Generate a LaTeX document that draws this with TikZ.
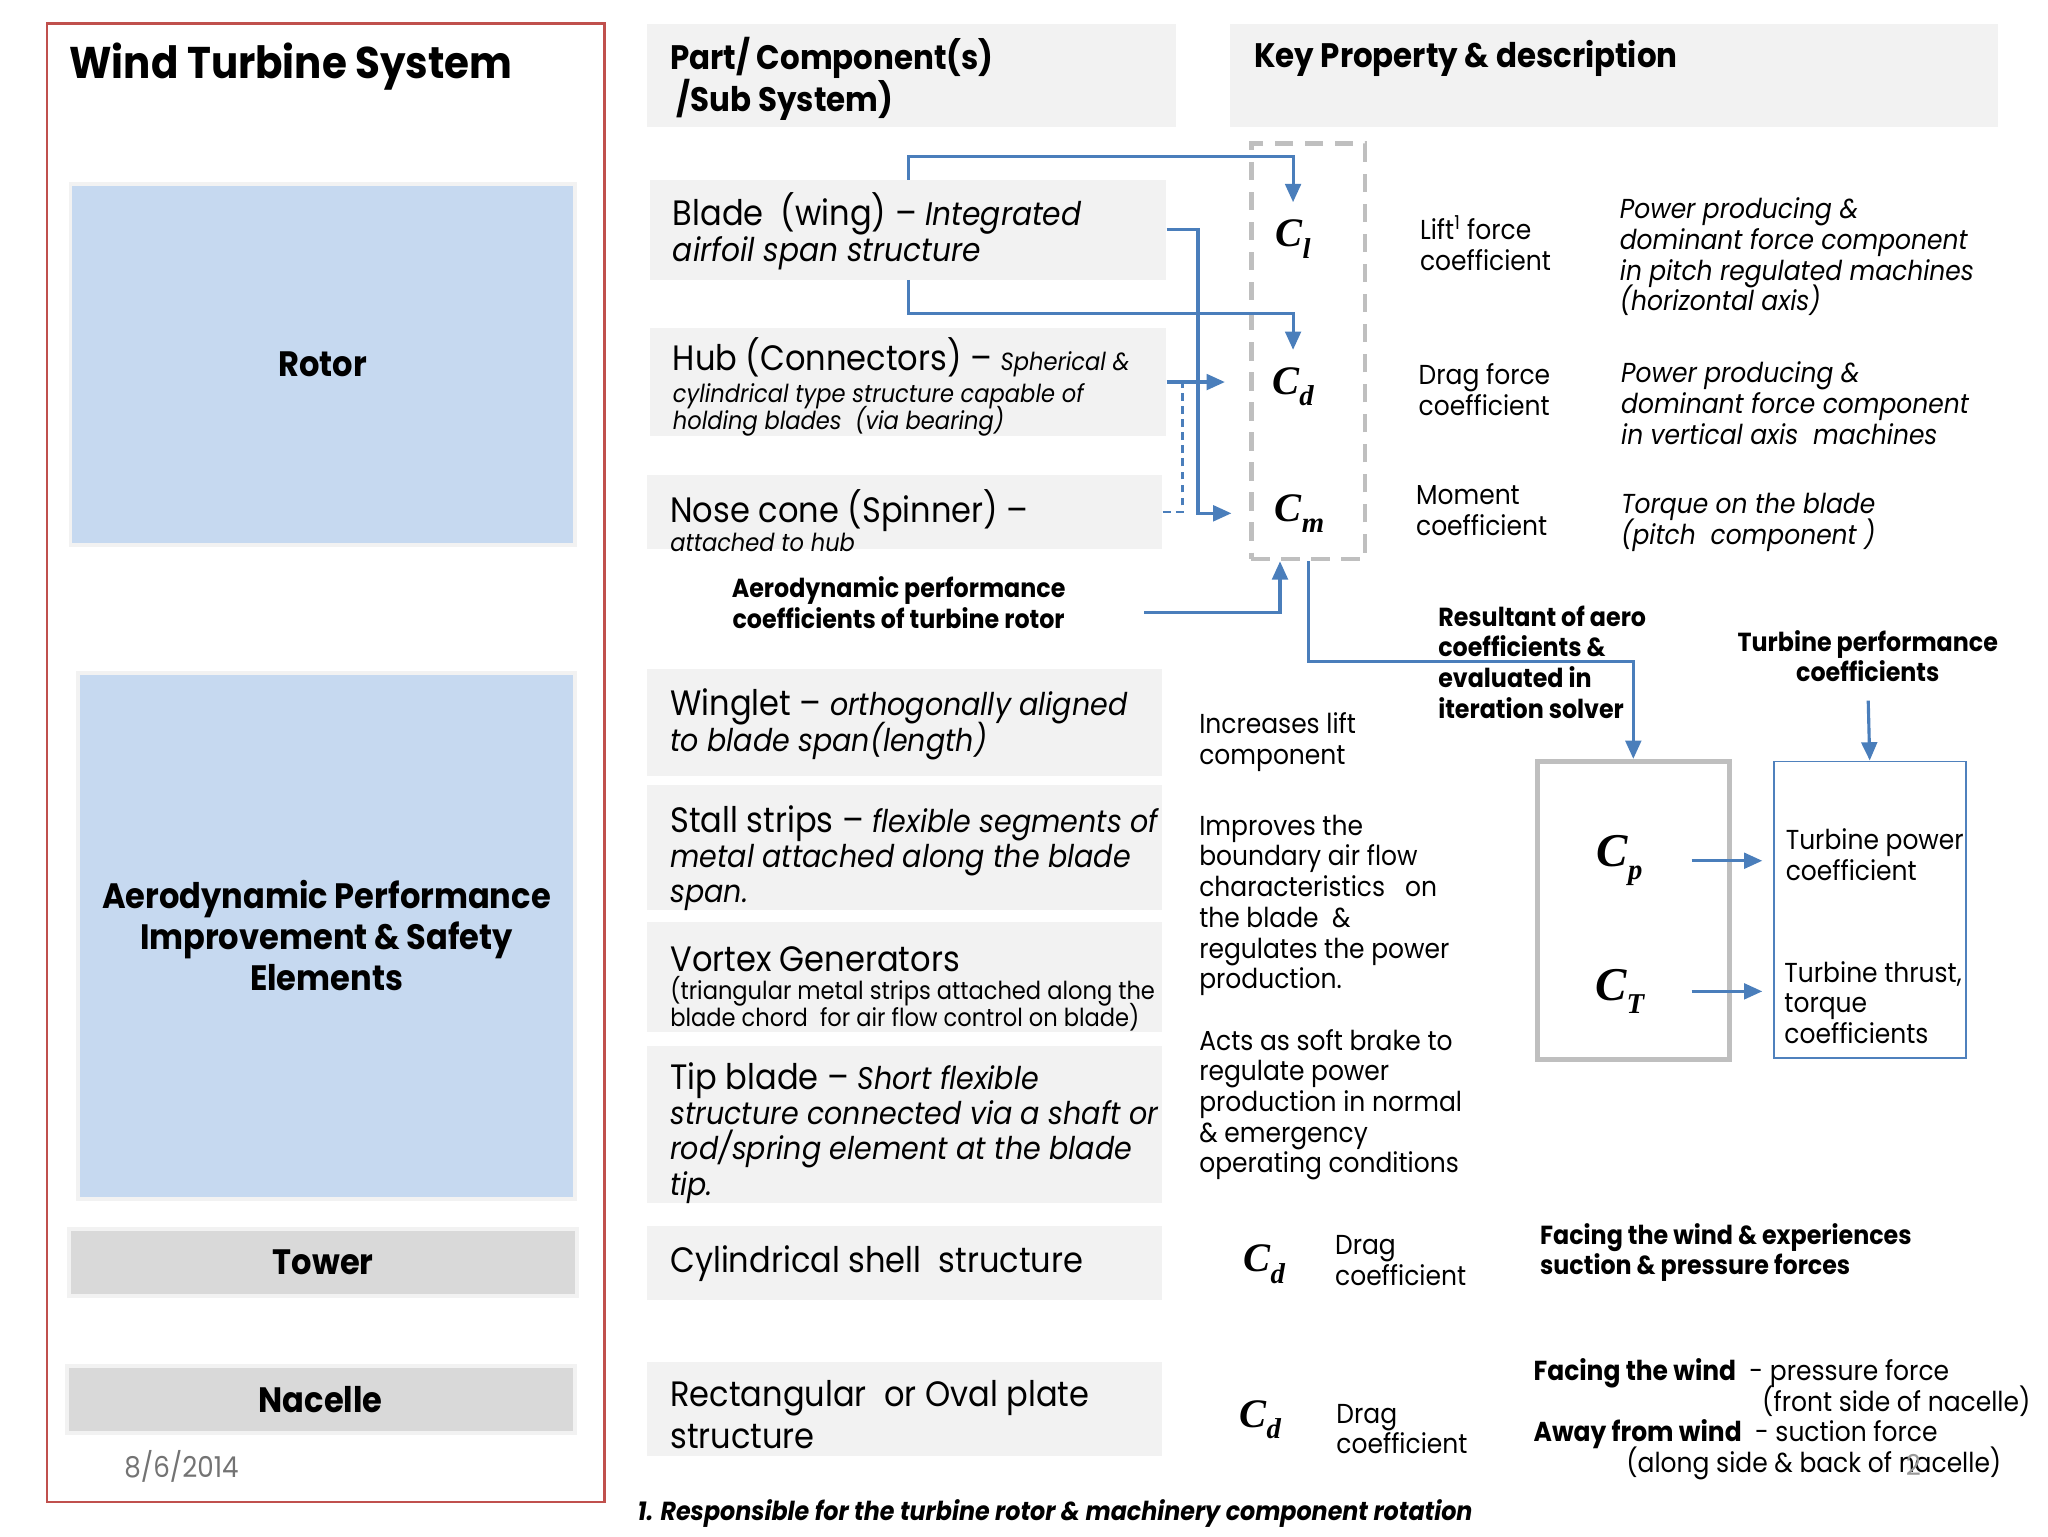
\documentclass[tikz,border=0pt]{standalone}
\usepackage{fontspec}
\setmainfont{Poppins}[FakeStretch=0.91]
\newfontfamily\coeffont{Liberation Serif}
\usetikzlibrary{arrows.meta,positioning,calc}

\definecolor{boxgray}{RGB}{242,242,242}
\definecolor{rotorblue}{RGB}{198,217,240}
\definecolor{towergray}{RGB}{217,217,217}
\definecolor{framered}{RGB}{192,80,77}
\definecolor{flowblue}{RGB}{74,126,187}
\definecolor{perfblue}{RGB}{79,129,189}
\definecolor{dashgray}{RGB}{191,191,191}

\newcommand{\fs}[2]{\fontsize{#1}{#2}\selectfont}
\newcommand{\coef}[1]{C\raisebox{-0.28em}{\fs{22}{22}#1}}

\tikzset{
  txt/.style={inner sep=0pt, anchor=base west, align=left, execute at begin node={\lineskiplimit=-20pt}},
  panel/.style={fill=rotorblue, draw=black!5, line width=3pt, inner sep=0pt, align=center, font=\bfseries\fs{27}{31.5}},
  graypanel/.style={panel, fill=towergray},
  compbox/.style={fill=boxgray, inner sep=0pt, minimum width=395pt},
  comptext/.style={txt, font=\fs{27}{27}},
  desc/.style={txt, font=\fs{21}{23.5}},
  keyit/.style={txt, font=\itshape\fs{21}{23.6}},
  boldlabel/.style={txt, font=\bfseries\fs{20}{23.5}},
  coef/.style={inner sep=0pt, minimum width=104pt, minimum height=56pt, font=\coeffont\bfseries\itshape\fs{31}{31}},
  flow/.style={draw=flowblue, line width=2.4pt, -{Triangle[length=14pt,width=12pt]}},
  flowdash/.style={draw=flowblue, line width=2pt, dash pattern=on 6pt off 4pt}
}

\begin{document}
\begin{tikzpicture}[x=1pt,y=-1pt]
\useasboundingbox (0,0) rectangle (1568,1176);

% left column (text nodes are placed at the baseline of their last line)
\node[draw=framered, line width=2pt, minimum width=427pt, minimum height=1132pt, inner sep=0pt] (frame) at (249.5,584) {};
\node[txt, font=\bfseries\fs{34}{34}] (title) at (53,60) {Wind Turbine System};
\node[panel, minimum width=386pt, minimum height=276pt] (rotor) at (247,279) {Rotor};
\node[panel, minimum width=380pt, minimum height=403pt] (aeropanel) at (250,716.5) {Aerodynamic Performance\\Improvement \& Safety\\Elements};
\node[graypanel, minimum width=389pt, minimum height=51pt] (tower) at (247.5,966.5) {Tower};
\node[graypanel, minimum width=389pt, minimum height=51pt] (nacelle) at (245.5,1071.5) {Nacelle};
\node[txt, font=\fs{22}{22}, text=black!55] (date) at (95,1131) {8/6/2014};

% headers
\node[compbox, minimum width=405pt, minimum height=79pt] (parthead) at (697.5,57.5) {};
\node[txt, font=\bfseries\fs{26}{32}] (parttxt) at (513,85) {Part/ Component(s)\\\ /Sub System)};
\node[compbox, minimum width=588pt, minimum height=79pt] (keyhead) at (1236,57.5) {};
\node[txt, font=\bfseries\fs{26}{32}] (keytxt) at (960,52) {Key Property \& description};

% components
\node[compbox, minimum height=76pt] (blade) at (695.5,176) {};
\node[comptext] (bladetxt) at (515,200) {Blade\ \ (wing) -- {\itshape\fs{25}{27}Integrated}\\{\itshape\fs{25}{27}airfoil span structure}};
\node[compbox, minimum height=83pt] (hub) at (695.5,292.5) {};
\node[comptext] (hubtxt) at (515,329) {Hub (Connectors) -- {\itshape\fs{19}{21}Spherical \&}\\[-3pt]{\itshape\fs{19}{21}cylindrical type structure capable of}\\[-6pt]{\itshape\fs{19}{21}holding blades\ \ (via bearing)}};
\node[compbox, minimum height=56pt] (nose) at (692.5,392) {};
\node[comptext] (nosetxt) at (513,422) {Nose cone (Spinner) --\\[-5pt]{\itshape\fs{19}{21}attached to hub}};
\node[boldlabel, anchor=base, align=center] (aerolabel) at (688,481) {Aerodynamic performance\\coefficients of turbine rotor};
\coordinate (aerostart) at (876,469);

\node[compbox, minimum height=82pt] (winglet) at (692.5,553) {};
\node[comptext] (winglettxt) at (513,575) {Winglet -- {\itshape\fs{24}{27}orthogonally aligned}\\{\itshape\fs{24}{27}to blade span(length)}};
\node[compbox, minimum height=96pt] (stall) at (692.5,649) {};
\node[comptext] (stalltxt) at (513,691) {Stall strips -- {\itshape\fs{24}{27}flexible segments of}\\{\itshape\fs{24}{27}metal attached along the blade}\\{\itshape\fs{24}{27}span.}};
\node[compbox, minimum height=84pt] (vortex) at (692.5,748) {};
\node[comptext] (vortextxt) at (513,786) {Vortex Generators\\[-6pt]{\fs{19}{21}(triangular metal strips attached along the}\\[-6pt]{\fs{19}{21}blade chord\ \ for air flow control on blade)}};
\node[compbox, minimum height=120pt] (tip) at (692.5,861) {};
\node[comptext] (tiptxt) at (513,915) {Tip blade -- {\itshape\fs{24}{27}Short flexible}\\{\itshape\fs{24}{27}structure connected via a shaft or}\\{\itshape\fs{24}{27}rod/spring element at the blade}\\{\itshape\fs{24}{27}tip.}};
\node[compbox, minimum height=56pt] (cyl) at (692.5,967) {};
\node[comptext] (cyltxt) at (513,974) {Cylindrical shell\ \ structure};
\node[compbox, minimum height=72pt] (rect) at (692.5,1079) {};
\node[comptext, font=\fs{27}{32}] (recttxt) at (513,1109) {Rectangular\ \ or Oval plate\\structure};
\node[txt, font=\bfseries\itshape\fs{20}{20}] (footnote) at (488,1164) {1. Responsible for the turbine rotor \& machinery component rotation};

% aero coefficients
\node[draw=dashgray, line width=3.5pt, dash pattern=on 14pt off 9pt, minimum width=87pt, minimum height=318pt, inner sep=0pt] (group) at (1001.5,269) {};
\node[coef] (cl) at (990,183) {\coef{l}};
\node[coef] (cd) at (990,296) {\coef{d}};
\node[coef] (cm) at (995,393) {\coef{m}};

\node[desc] (lift) at (1087,207) {Lift\textsuperscript{1} force\\coefficient};
\node[keyit] (liftkey) at (1240,238) {Power producing \&\\dominant force component\\in pitch regulated machines\\(horizontal axis)};
\node[desc] (drag) at (1086,318) {Drag force\\coefficient};
\node[keyit] (dragkey) at (1241,340) {Power producing \&\\dominant force component\\in vertical axis\ \ machines};
\node[desc] (moment) at (1084,410) {Moment\\coefficient};
\node[keyit] (momentkey) at (1241,417) {Torque on the blade\\(pitch\ \ component )};

% turbine coefficients
\node[boldlabel] (resultlabel) at (1101,550) {Resultant of aero\\coefficients \&\\evaluated in\\iteration solver};
\node[boldlabel, anchor=base, align=center] (perflabel) at (1430,522) {Turbine performance\\coefficients};
\node[draw=dashgray, line width=4pt, minimum width=147pt, minimum height=228pt, inner sep=0pt] (cpbox) at (1250.5,697) {};
\node[draw=perfblue, line width=1.5pt, minimum width=147pt, minimum height=227pt, inner sep=0pt] (perfbox) at (1431.5,696.5) {};
\node[coef, minimum width=110pt, font=\coeffont\bfseries\itshape\fs{36}{36}] (cp) at (1240,659) {\coef{p}};
\node[coef, minimum width=110pt, font=\coeffont\bfseries\itshape\fs{36}{36}] (ct) at (1240,759) {\coef{T}};
\node[desc] (powertxt) at (1367,674) {Turbine power\\coefficient};
\node[desc] (thrusttxt) at (1366,799) {Turbine thrust,\\torque\\coefficients};

% element effects
\node[desc] (wingletfx) at (918,585) {Increases lift\\component};
\node[desc] (stallfx) at (918,757) {Improves the\\boundary air flow\\characteristics\ \ \ on\\the blade\ \ \&\\regulates the power\\production.};
\node[desc] (tipfx) at (918,898) {Acts as soft brake to\\regulate power\\production in normal\\\& emergency\\operating conditions};

% tower and nacelle rows
\node[coef] (cdtower) at (968,968) {\coef{d}};
\node[desc] (dragtower) at (1022,984) {Drag\\coefficient};
\node[boldlabel] (towerkey) at (1179,976) {Facing the wind \& experiences\\suction \& pressure forces};
\node[coef] (cdnacelle) at (965,1087) {\coef{d}};
\node[desc] (dragnacelle) at (1023,1113) {Drag\\coefficient};
\node[desc, font=\fs{21}{23.3}] (nacellekey) at (1174,1127) {\textbf{Facing the wind}\ \ - pressure force\\\hspace*{175pt}(front side of nacelle)\\\textbf{Away from wind}\ \ - suction force\\\hspace*{71pt}(along side \& back of nacelle)};
\node[txt, font=\fs{22}{22}, text=black!40] (slideno) at (1459,1130) {2};

% Arrows
\draw[flow] (blade.north) -- ++(0,-18) -| (cl.north);
\draw[flow] (blade.south) -- ++(0,26) -| (cd.north);
\draw[flow] (blade.east) -- ++(24,0) |- (cm.west);
\draw[flow] (hub.east) -- (hub.east -| cd.west);
\draw[flowdash] (nose.east) -| ($(hub.east)+(12,0)$);
\draw[flow] (aerostart) -| ([xshift=-21.5pt]group.south);
\draw[flow] (group.south) -- ++(0,77) -| (cpbox.north);
\draw[flow, shorten <=14pt] (perflabel.south) -- (perfbox.north);
\draw[flow, shorten >=8pt] (cp.east) -- (cp.east -| perfbox.west);
\draw[flow, shorten >=8pt] (ct.east) -- (ct.east -| perfbox.west);
\end{tikzpicture}
\end{document}
